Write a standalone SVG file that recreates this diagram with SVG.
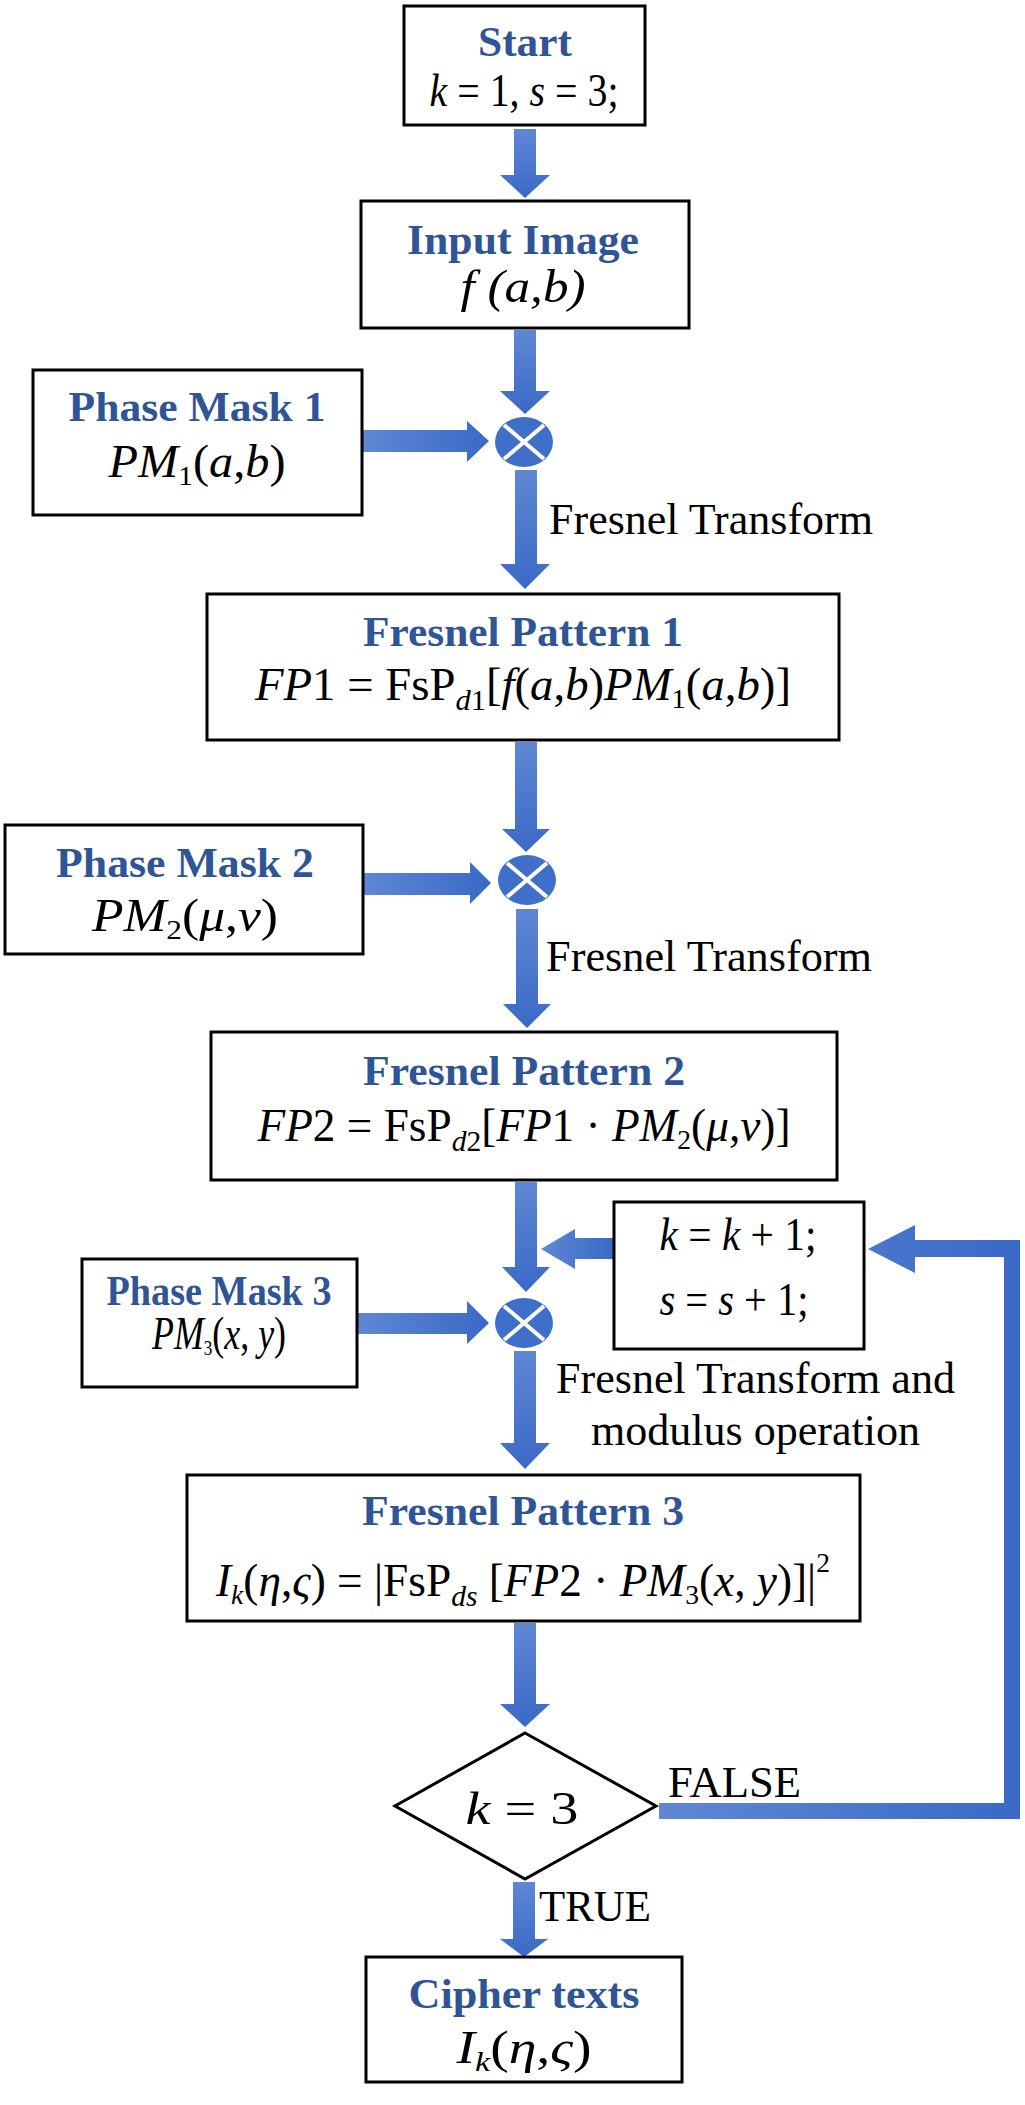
<svg xmlns="http://www.w3.org/2000/svg" width="1025" height="2105" viewBox="0 0 1025 2105">
<defs>
<linearGradient id="gv" x1="0" y1="0" x2="0" y2="1"><stop offset="0" stop-color="#5f87d4"/><stop offset="1" stop-color="#3a69c6"/></linearGradient>
<linearGradient id="gh" x1="0" y1="0" x2="1" y2="0"><stop offset="0" stop-color="#5f87d4"/><stop offset="1" stop-color="#3a69c6"/></linearGradient>
</defs>
<style>
.box{fill:#fff;stroke:#000;stroke-width:3}
.t{font-family:"Liberation Serif","Times New Roman",serif;font-weight:bold;fill:#2f5597;font-size:43px;text-anchor:middle}
.f{font-family:"Liberation Serif","Times New Roman",serif;font-size:46px;fill:#000;text-anchor:middle}
.i{font-style:italic}
.l{font-family:"Liberation Serif","Times New Roman",serif;font-size:44px;fill:#000}
.av{fill:url(#gv)}
.ah{fill:url(#gh)}
.mul{fill:#3f6fc8}
</style>
<g id="connectors">
<polygon class="av" points="514,129 536,129 536,175 550,175 525,198 500,175 514,175"/>
<polygon class="av" points="514,330 536,330 536,391 550,391 525,414 500,391 514,391"/>
<polygon class="ah" points="362,430 467,430 467,421 489,441 467,462 467,452 362,452"/>
<polygon class="av" points="515,470 537,470 537,564 550,564 525,589 500,564 515,564"/>
<polygon class="av" points="515,742 537,742 537,829 550,829 526,852 502,829 515,829"/>
<polygon class="ah" points="363,873 470,873 470,862 491,883 470,904 470,895 363,895"/>
<polygon class="av" points="516,909 538,909 538,1004 551,1004 527,1028 503,1004 516,1004"/>
<polygon class="av" points="515,1182 537,1182 537,1267 550,1267 526,1292 502,1267 515,1267"/>
<polygon class="ah" points="614,1238 575,1238 575,1229 541,1249 575,1269 575,1259 614,1259"/>
<polygon class="ah" points="357,1313 467,1313 467,1301 489,1323 467,1344 467,1334 357,1334"/>
<polygon class="av" points="514,1351 536,1351 536,1443 550,1443 525,1469 500,1443 514,1443"/>
<polygon class="av" points="514,1623 536,1623 536,1704 550,1704 525,1727 500,1704 514,1704"/>
<polygon class="av" points="513,1882 535,1882 535,1939 548,1939 524,1957 500,1939 513,1939"/>
<polygon class="ah" points="659,1803 1004,1803 1004,1257 915,1257 915,1273 868,1249 915,1225 915,1240 1020,1240 1020,1819 659,1819"/>
<g class="mul">
<ellipse cx="524" cy="442" rx="29" ry="25"/>
<ellipse cx="527" cy="880" rx="29" ry="25"/>
<ellipse cx="524" cy="1323" rx="29" ry="25"/>
</g>
<g stroke="#fff" stroke-width="4">
<line x1="504" y1="425" x2="544" y2="459"/><line x1="544" y1="425" x2="504" y2="459"/>
<line x1="507" y1="863" x2="547" y2="897"/><line x1="547" y1="863" x2="507" y2="897"/>
<line x1="504" y1="1306" x2="544" y2="1340"/><line x1="544" y1="1306" x2="504" y2="1340"/>
</g>
</g>
<g id="start">
<rect class="box" x="404" y="6" width="241" height="119"/>
<text class="t" x="525" y="56" textLength="94" lengthAdjust="spacingAndGlyphs">Start</text>
<text class="f" x="524" y="106" textLength="189" lengthAdjust="spacingAndGlyphs"><tspan class="i">k</tspan> = 1, <tspan class="i">s</tspan> = 3;</text>
</g>
<g id="input">
<rect class="box" x="361" y="201" width="328" height="127"/>
<text class="t" x="523" y="254" textLength="232" lengthAdjust="spacingAndGlyphs">Input Image</text>
<text class="f i" x="523" y="302" textLength="125" lengthAdjust="spacingAndGlyphs">f (a,b)</text>
</g>
<g id="pm1">
<rect class="box" x="33" y="370" width="329" height="145"/>
<text class="t" x="197" y="421" textLength="257" lengthAdjust="spacingAndGlyphs">Phase Mask 1</text>
<text class="f" x="197" y="477" textLength="177" lengthAdjust="spacingAndGlyphs"><tspan class="i">PM</tspan><tspan font-size="28" dy="8">1</tspan><tspan dy="-8">(</tspan><tspan class="i">a</tspan>,<tspan class="i">b</tspan>)</text>
</g>
<text class="l" x="549" y="534" textLength="324" lengthAdjust="spacingAndGlyphs">Fresnel Transform</text>
<g id="fp1">
<rect class="box" x="207" y="594" width="632" height="146"/>
<text class="t" x="523" y="646" textLength="320" lengthAdjust="spacingAndGlyphs">Fresnel Pattern 1</text>
<text class="f" x="523" y="700" textLength="536" lengthAdjust="spacingAndGlyphs"><tspan class="i">FP</tspan>1 = FsP<tspan class="i" font-size="30" dy="10">d</tspan><tspan font-size="30">1</tspan><tspan dy="-10">[</tspan><tspan class="i">f</tspan>(<tspan class="i">a</tspan>,<tspan class="i">b</tspan>)<tspan class="i">PM</tspan><tspan font-size="28" dy="8">1</tspan><tspan dy="-8">(</tspan><tspan class="i">a</tspan>,<tspan class="i">b</tspan>)]</text>
</g>
<g id="pm2">
<rect class="box" x="5" y="825" width="358" height="129"/>
<text class="t" x="185" y="877" textLength="258" lengthAdjust="spacingAndGlyphs">Phase Mask 2</text>
<text class="f" x="185" y="931" textLength="186" lengthAdjust="spacingAndGlyphs"><tspan class="i">PM</tspan><tspan font-size="28" dy="8">2</tspan><tspan dy="-8">(</tspan><tspan class="i">μ</tspan>,<tspan class="i">ν</tspan>)</text>
</g>
<text class="l" x="546" y="971" textLength="326" lengthAdjust="spacingAndGlyphs">Fresnel Transform</text>
<g id="fp2">
<rect class="box" x="211" y="1032" width="626" height="148"/>
<text class="t" x="524" y="1085" textLength="322" lengthAdjust="spacingAndGlyphs">Fresnel Pattern 2</text>
<text class="f" x="524" y="1141" textLength="533" lengthAdjust="spacingAndGlyphs"><tspan class="i">FP</tspan>2 = FsP<tspan class="i" font-size="30" dy="10">d</tspan><tspan font-size="30">2</tspan><tspan dy="-10">[</tspan><tspan class="i">FP</tspan>1 · <tspan class="i">PM</tspan><tspan font-size="28" dy="8">2</tspan><tspan dy="-8">(</tspan><tspan class="i">μ</tspan>,<tspan class="i">ν</tspan>)]</text>
</g>
<g id="update">
<rect class="box" x="614" y="1202" width="250" height="147"/>
<text class="f" x="738" y="1250" textLength="157" lengthAdjust="spacingAndGlyphs"><tspan class="i">k</tspan> = <tspan class="i">k</tspan> + 1;</text>
<text class="f" x="734" y="1315" textLength="149" lengthAdjust="spacingAndGlyphs"><tspan class="i">s</tspan> = <tspan class="i">s</tspan> + 1;</text>
</g>
<g id="pm3">
<rect class="box" x="82" y="1259" width="275" height="128"/>
<text class="t" x="219" y="1305" textLength="225" lengthAdjust="spacingAndGlyphs">Phase Mask 3</text>
<text class="f" x="219" y="1349" font-size="34" textLength="134" lengthAdjust="spacingAndGlyphs"><tspan class="i">PM</tspan><tspan font-size="22" dy="6">3</tspan><tspan dy="-6">(</tspan><tspan class="i">x</tspan>, <tspan class="i">y</tspan>)</text>
</g>
<text class="l" x="556" y="1393" textLength="399" lengthAdjust="spacingAndGlyphs">Fresnel Transform and</text>
<text class="l" x="591" y="1445" textLength="329" lengthAdjust="spacingAndGlyphs">modulus operation</text>
<g id="fp3">
<rect class="box" x="187" y="1475" width="673" height="146"/>
<text class="t" x="523" y="1525" textLength="322" lengthAdjust="spacingAndGlyphs">Fresnel Pattern 3</text>
<text class="f" x="523" y="1596" textLength="614" lengthAdjust="spacingAndGlyphs"><tspan class="i">I</tspan><tspan class="i" font-size="28" dy="8">k</tspan><tspan dy="-8">(</tspan><tspan class="i">η</tspan>,<tspan class="i">ς</tspan>) = |FsP<tspan class="i" font-size="30" dy="10">ds</tspan><tspan dy="-10"> [</tspan><tspan class="i">FP</tspan>2 · <tspan class="i">PM</tspan><tspan font-size="28" dy="8">3</tspan><tspan dy="-8">(</tspan><tspan class="i">x</tspan>, <tspan class="i">y</tspan>)]|<tspan font-size="28" dy="-24">2</tspan></text>
</g>
<g id="decision">
<polygon points="525,1733 656,1806 525,1879 395,1806" fill="#fff" stroke="#000" stroke-width="3"/>
<text class="f" x="522" y="1824" font-size="56" textLength="113" lengthAdjust="spacingAndGlyphs"><tspan class="i">k</tspan> = 3</text>
</g>
<text class="l" x="668" y="1797" textLength="133" lengthAdjust="spacingAndGlyphs">FALSE</text>
<text class="l" x="539" y="1921" textLength="112" lengthAdjust="spacingAndGlyphs">TRUE</text>
<g id="cipher">
<rect class="box" x="366" y="1957" width="316" height="125"/>
<text class="t" x="524" y="2008" textLength="231" lengthAdjust="spacingAndGlyphs">Cipher texts</text>
<text class="f" x="524" y="2063" textLength="135" lengthAdjust="spacingAndGlyphs"><tspan class="i">I</tspan><tspan class="i" font-size="28" dy="8">k</tspan><tspan dy="-8">(</tspan><tspan class="i">η</tspan>,<tspan class="i">ς</tspan>)</text>
</g>
</svg>
